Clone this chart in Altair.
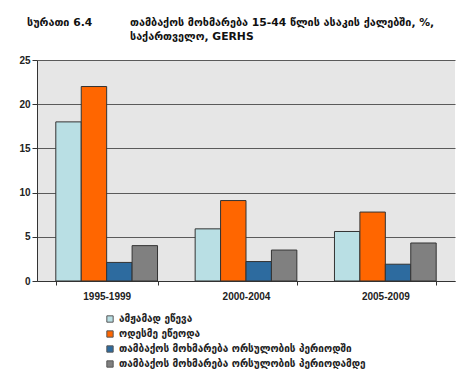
import altair as alt
import pandas as pd

periods = ["1995-1999", "2000-2004", "2005-2009"]
series = [
    "ამჟამად ეწევა",
    "ოდესმე ეწეოდა",
    "თამბაქოს მოხმარება ორსულობის პერიოდში",
    "თამბაქოს მოხმარება ორსულობის პერიოდამდე",
]
current = [18.0, 5.9, 5.6]
ever = [22.0, 9.1, 7.8]
during = [2.1, 2.2, 1.9]
before = [4.0, 3.5, 4.3]
colors = ["#b9dfe4", "#ff6600", "#2d6b9f", "#808080"]

fig_label = "სურათი 6.4"
title_lines = ["თამბაქოს მოხმარება 15-44 წლის ასაკის ქალებში, %,", "საქართველო, GERHS"]

rows = []
for s, vals in zip(series, [current, ever, during, before]):
    for p, v in zip(periods, vals):
        rows.append({"period": p, "series": s, "value": v})
df = pd.DataFrame(rows)

bars = alt.Chart(df).mark_bar(stroke="#333333", strokeWidth=1).encode(
    x=alt.X("period:N", sort=periods,
            scale=alt.Scale(paddingInner=0.27, paddingOuter=0.135),
            axis=alt.Axis(title=None, labelAngle=0, tickBand="extent", grid=False,
                          labelPadding=6, tickSize=4)),
    xOffset=alt.XOffset("series:N", sort=series),
    y=alt.Y("value:Q", scale=alt.Scale(domain=[0, 25]),
            axis=alt.Axis(title=None, values=[0, 5, 10, 15, 20, 25], grid=True,
                          tickSize=5, labelPadding=2)),
    color=alt.Color("series:N", sort=series,
                    scale=alt.Scale(domain=series, range=colors),
                    legend=alt.Legend(title=None, orient="none", legendX=68, legendY=254,
                                      symbolType="square", symbolSize=40,
                                      symbolStrokeColor="#555555", symbolStrokeWidth=1,
                                      labelFont="DejaVu Sans", labelFontSize=10,
                                      labelFontWeight="bold", labelColor="#222222",
                                      rowPadding=3, labelLimit=400)),
)

tdf = pd.DataFrame({"t": [fig_label]})
tstyle = dict(align="left", baseline="middle", font="DejaVu Sans",
              fontWeight="bold", fontSize=10.8, color="#111111")
t1 = alt.Chart(tdf).mark_text(**tstyle).encode(
    x=alt.value(-10), y=alt.value(-37), text=alt.value(fig_label))
t2 = alt.Chart(tdf).mark_text(**tstyle).encode(
    x=alt.value(93), y=alt.value(-37), text=alt.value(title_lines[0]))
t3 = alt.Chart(tdf).mark_text(**tstyle).encode(
    x=alt.value(93), y=alt.value(-23), text=alt.value(title_lines[1]))

chart = alt.layer(bars, t1, t2, t3).properties(
    width=418, height=221,
    autosize=alt.AutoSizeParams(type="none"),
    padding={"left": 29, "top": 52, "right": 10, "bottom": 95},
).configure_view(fill="#e6e6e6", stroke=None).configure_axis(
    domainColor="#333333", gridColor="#5a5a5a", tickColor="#333333",
    labelFont="Liberation Sans", labelFontWeight="bold", labelFontSize=10,
    labelColor="#222222",
)

chart.save("out.html", embed_options={"renderer": "svg", "actions": False})
